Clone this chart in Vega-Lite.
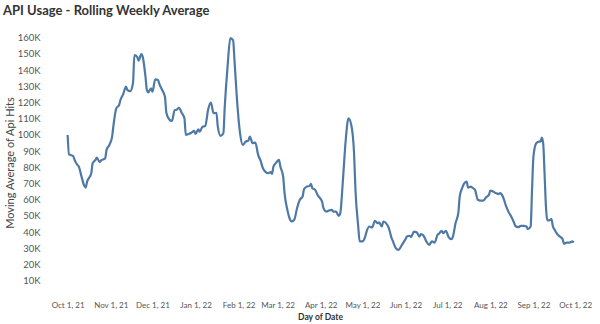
{
  "$schema": "https://vega.github.io/schema/vega-lite/v6.json",
  "autosize": {"type": "none"},
  "width": 552,
  "height": 269,
  "padding": {"left": 44, "top": 28, "right": 4, "bottom": 27},
  "background": "white",
  "title": {
    "text": "API Usage - Rolling Weekly Average",
    "anchor": "start",
    "frame": "group",
    "font": "Lato",
    "fontSize": 13,
    "fontWeight": "bold",
    "color": "#333333",
    "dx": -41,
    "offset": 10
  },
  "config": {
    "view": {"stroke": null},
    "font": "Lato"
  },
  "data": {
    "format": {"parse": {"date": "date:'%Y-%m-%d'"}},
    "values": [
      {"date": "2021-10-01", "hits": 100000},
      {"date": "2021-10-02", "hits": 88000},
      {"date": "2021-10-05", "hits": 87000},
      {"date": "2021-10-06", "hits": 84600},
      {"date": "2021-10-08", "hits": 81500},
      {"date": "2021-10-09", "hits": 80500},
      {"date": "2021-10-11", "hits": 74300},
      {"date": "2021-10-13", "hits": 68600},
      {"date": "2021-10-14", "hits": 67500},
      {"date": "2021-10-15", "hits": 71200},
      {"date": "2021-10-16", "hits": 72900},
      {"date": "2021-10-18", "hits": 76400},
      {"date": "2021-10-19", "hits": 82600},
      {"date": "2021-10-21", "hits": 84600},
      {"date": "2021-10-22", "hits": 86000},
      {"date": "2021-10-24", "hits": 83200},
      {"date": "2021-10-25", "hits": 84200},
      {"date": "2021-10-28", "hits": 85600},
      {"date": "2021-10-29", "hits": 90800},
      {"date": "2021-10-31", "hits": 93800},
      {"date": "2021-11-02", "hits": 99000},
      {"date": "2021-11-03", "hits": 106200},
      {"date": "2021-11-05", "hits": 116400},
      {"date": "2021-11-07", "hits": 118500},
      {"date": "2021-11-08", "hits": 121600},
      {"date": "2021-11-10", "hits": 125300},
      {"date": "2021-11-12", "hits": 129800},
      {"date": "2021-11-13", "hits": 127700},
      {"date": "2021-11-15", "hits": 127100},
      {"date": "2021-11-17", "hits": 131900},
      {"date": "2021-11-18", "hits": 149300},
      {"date": "2021-11-20", "hits": 148200},
      {"date": "2021-11-21", "hits": 145800},
      {"date": "2021-11-23", "hits": 149900},
      {"date": "2021-11-24", "hits": 148200},
      {"date": "2021-11-26", "hits": 135900},
      {"date": "2021-11-27", "hits": 127700},
      {"date": "2021-11-28", "hits": 126300},
      {"date": "2021-11-30", "hits": 128800},
      {"date": "2021-12-01", "hits": 126700},
      {"date": "2021-12-03", "hits": 134300},
      {"date": "2021-12-05", "hits": 133900},
      {"date": "2021-12-06", "hits": 131400},
      {"date": "2021-12-08", "hits": 127700},
      {"date": "2021-12-10", "hits": 123600},
      {"date": "2021-12-11", "hits": 113700},
      {"date": "2021-12-13", "hits": 109700},
      {"date": "2021-12-15", "hits": 108600},
      {"date": "2021-12-17", "hits": 115400},
      {"date": "2021-12-18", "hits": 115400},
      {"date": "2021-12-20", "hits": 116800},
      {"date": "2021-12-22", "hits": 113700},
      {"date": "2021-12-24", "hits": 110300},
      {"date": "2021-12-25", "hits": 100000},
      {"date": "2021-12-27", "hits": 100600},
      {"date": "2021-12-29", "hits": 101400},
      {"date": "2021-12-31", "hits": 102500},
      {"date": "2022-01-01", "hits": 100600},
      {"date": "2022-01-03", "hits": 103500},
      {"date": "2022-01-04", "hits": 102000},
      {"date": "2022-01-06", "hits": 105100},
      {"date": "2022-01-08", "hits": 105500},
      {"date": "2022-01-10", "hits": 115400},
      {"date": "2022-01-12", "hits": 119900},
      {"date": "2022-01-14", "hits": 113400},
      {"date": "2022-01-16", "hits": 113700},
      {"date": "2022-01-17", "hits": 105100},
      {"date": "2022-01-19", "hits": 99400},
      {"date": "2022-01-21", "hits": 101000},
      {"date": "2022-01-22", "hits": 117400},
      {"date": "2022-01-24", "hits": 142000},
      {"date": "2022-01-26", "hits": 159800},
      {"date": "2022-01-28", "hits": 158500},
      {"date": "2022-01-29", "hits": 146000},
      {"date": "2022-01-31", "hits": 119500},
      {"date": "2022-02-02", "hits": 101000},
      {"date": "2022-02-04", "hits": 93800},
      {"date": "2022-02-06", "hits": 95900},
      {"date": "2022-02-08", "hits": 96500},
      {"date": "2022-02-09", "hits": 99000},
      {"date": "2022-02-11", "hits": 94900},
      {"date": "2022-02-13", "hits": 95300},
      {"date": "2022-02-15", "hits": 87700},
      {"date": "2022-02-17", "hits": 83600},
      {"date": "2022-02-18", "hits": 80500},
      {"date": "2022-02-20", "hits": 77400},
      {"date": "2022-02-22", "hits": 76400},
      {"date": "2022-02-24", "hits": 77000},
      {"date": "2022-02-25", "hits": 76000},
      {"date": "2022-02-26", "hits": 80500},
      {"date": "2022-02-28", "hits": 82900},
      {"date": "2022-03-02", "hits": 84600},
      {"date": "2022-03-03", "hits": 80500},
      {"date": "2022-03-05", "hits": 74300},
      {"date": "2022-03-06", "hits": 64100},
      {"date": "2022-03-08", "hits": 53800},
      {"date": "2022-03-10", "hits": 47700},
      {"date": "2022-03-11", "hits": 46600},
      {"date": "2022-03-13", "hits": 47700},
      {"date": "2022-03-15", "hits": 54800},
      {"date": "2022-03-17", "hits": 60000},
      {"date": "2022-03-19", "hits": 62000},
      {"date": "2022-03-20", "hits": 66500},
      {"date": "2022-03-22", "hits": 68100},
      {"date": "2022-03-24", "hits": 68600},
      {"date": "2022-03-25", "hits": 69800},
      {"date": "2022-03-26", "hits": 67200},
      {"date": "2022-03-28", "hits": 66100},
      {"date": "2022-03-30", "hits": 62600},
      {"date": "2022-04-02", "hits": 58900},
      {"date": "2022-04-03", "hits": 54800},
      {"date": "2022-04-05", "hits": 52700},
      {"date": "2022-04-07", "hits": 53400},
      {"date": "2022-04-09", "hits": 53800},
      {"date": "2022-04-10", "hits": 52700},
      {"date": "2022-04-12", "hits": 52700},
      {"date": "2022-04-14", "hits": 50100},
      {"date": "2022-04-15", "hits": 51300},
      {"date": "2022-04-17", "hits": 72300},
      {"date": "2022-04-19", "hits": 96900},
      {"date": "2022-04-21", "hits": 110300},
      {"date": "2022-04-23", "hits": 106200},
      {"date": "2022-04-25", "hits": 88700},
      {"date": "2022-04-26", "hits": 66100},
      {"date": "2022-04-28", "hits": 43500},
      {"date": "2022-04-29", "hits": 34300},
      {"date": "2022-05-01", "hits": 34300},
      {"date": "2022-05-03", "hits": 37300},
      {"date": "2022-05-04", "hits": 40400},
      {"date": "2022-05-06", "hits": 43500},
      {"date": "2022-05-08", "hits": 42900},
      {"date": "2022-05-10", "hits": 47000},
      {"date": "2022-05-12", "hits": 45600},
      {"date": "2022-05-13", "hits": 46000},
      {"date": "2022-05-15", "hits": 43500},
      {"date": "2022-05-16", "hits": 46600},
      {"date": "2022-05-18", "hits": 45600},
      {"date": "2022-05-20", "hits": 42500},
      {"date": "2022-05-22", "hits": 36400},
      {"date": "2022-05-23", "hits": 34300},
      {"date": "2022-05-25", "hits": 30200},
      {"date": "2022-05-27", "hits": 29100},
      {"date": "2022-05-29", "hits": 31600},
      {"date": "2022-06-01", "hits": 35700},
      {"date": "2022-06-02", "hits": 37300},
      {"date": "2022-06-04", "hits": 37800},
      {"date": "2022-06-05", "hits": 37000},
      {"date": "2022-06-07", "hits": 40400},
      {"date": "2022-06-09", "hits": 40000},
      {"date": "2022-06-11", "hits": 37300},
      {"date": "2022-06-12", "hits": 38800},
      {"date": "2022-06-14", "hits": 37800},
      {"date": "2022-06-16", "hits": 34300},
      {"date": "2022-06-18", "hits": 32200},
      {"date": "2022-06-20", "hits": 34300},
      {"date": "2022-06-22", "hits": 33600},
      {"date": "2022-06-24", "hits": 38400},
      {"date": "2022-06-25", "hits": 39000},
      {"date": "2022-06-27", "hits": 40800},
      {"date": "2022-06-28", "hits": 39400},
      {"date": "2022-06-30", "hits": 40800},
      {"date": "2022-07-02", "hits": 37000},
      {"date": "2022-07-04", "hits": 35700},
      {"date": "2022-07-05", "hits": 37000},
      {"date": "2022-07-07", "hits": 45600},
      {"date": "2022-07-09", "hits": 52100},
      {"date": "2022-07-10", "hits": 62000},
      {"date": "2022-07-12", "hits": 67800},
      {"date": "2022-07-13", "hits": 69800},
      {"date": "2022-07-15", "hits": 71200},
      {"date": "2022-07-16", "hits": 67500},
      {"date": "2022-07-18", "hits": 68100},
      {"date": "2022-07-19", "hits": 67500},
      {"date": "2022-07-21", "hits": 66100},
      {"date": "2022-07-23", "hits": 60000},
      {"date": "2022-07-25", "hits": 59500},
      {"date": "2022-07-27", "hits": 59500},
      {"date": "2022-07-29", "hits": 61600},
      {"date": "2022-07-31", "hits": 63000},
      {"date": "2022-08-01", "hits": 65700},
      {"date": "2022-08-03", "hits": 65100},
      {"date": "2022-08-05", "hits": 64100},
      {"date": "2022-08-07", "hits": 63500},
      {"date": "2022-08-08", "hits": 64100},
      {"date": "2022-08-10", "hits": 62000},
      {"date": "2022-08-12", "hits": 56900},
      {"date": "2022-08-14", "hits": 52700},
      {"date": "2022-08-16", "hits": 49700},
      {"date": "2022-08-18", "hits": 46000},
      {"date": "2022-08-19", "hits": 43900},
      {"date": "2022-08-21", "hits": 43100},
      {"date": "2022-08-23", "hits": 43900},
      {"date": "2022-08-25", "hits": 43900},
      {"date": "2022-08-27", "hits": 43500},
      {"date": "2022-08-28", "hits": 41900},
      {"date": "2022-08-30", "hits": 43500},
      {"date": "2022-08-31", "hits": 66100},
      {"date": "2022-09-01", "hits": 86600},
      {"date": "2022-09-03", "hits": 94900},
      {"date": "2022-09-05", "hits": 95900},
      {"date": "2022-09-06", "hits": 95900},
      {"date": "2022-09-07", "hits": 98300},
      {"date": "2022-09-08", "hits": 94900},
      {"date": "2022-09-09", "hits": 76400},
      {"date": "2022-09-10", "hits": 55800},
      {"date": "2022-09-11", "hits": 47700},
      {"date": "2022-09-12", "hits": 47200},
      {"date": "2022-09-14", "hits": 48100},
      {"date": "2022-09-15", "hits": 43500},
      {"date": "2022-09-16", "hits": 41900},
      {"date": "2022-09-18", "hits": 39000},
      {"date": "2022-09-20", "hits": 37300},
      {"date": "2022-09-22", "hits": 35700},
      {"date": "2022-09-23", "hits": 32800},
      {"date": "2022-09-25", "hits": 33600},
      {"date": "2022-09-27", "hits": 33600},
      {"date": "2022-09-29", "hits": 34300},
      {"date": "2022-09-30", "hits": 33600}
    ]
  },
  "mark": {"type": "line", "color": "#4e79a7", "strokeWidth": 2.2, "interpolate": "monotone"},
  "encoding": {
    "x": {
      "field": "date",
      "type": "temporal",
      "title": "Day of Date",
      "scale": {"domain": [{"year": 2021, "month": 9, "date": 14}, {"year": 2022, "month": 10, "date": 16}]},
      "axis": {
        "values": [
          {"year": 2021, "month": 10, "date": 1},
          {"year": 2021, "month": 11, "date": 1},
          {"year": 2021, "month": 12, "date": 1},
          {"year": 2022, "month": 1, "date": 1},
          {"year": 2022, "month": 2, "date": 1},
          {"year": 2022, "month": 3, "date": 1},
          {"year": 2022, "month": 4, "date": 1},
          {"year": 2022, "month": 5, "date": 1},
          {"year": 2022, "month": 6, "date": 1},
          {"year": 2022, "month": 7, "date": 1},
          {"year": 2022, "month": 8, "date": 1},
          {"year": 2022, "month": 9, "date": 1},
          {"year": 2022, "month": 10, "date": 1}
        ],
        "format": "%b %-d, %y",
        "grid": false,
        "domain": false,
        "ticks": false,
        "labelPadding": 4,
        "labelFontSize": 8,
        "labelColor": "#555555",
        "labelFont": "Lato",
        "labelFlush": false,
        "labelOverlap": false,
        "titleFont": "Lato",
        "titleFontSize": 8.5,
        "titleFontWeight": "bold",
        "titleColor": "#333333",
        "titlePadding": 3
      }
    },
    "y": {
      "field": "hits",
      "type": "quantitative",
      "title": "Moving Average of Api Hits",
      "scale": {"domain": [0, 166000], "nice": false, "zero": true},
      "axis": {
        "values": [10000, 20000, 30000, 40000, 50000, 60000, 70000, 80000, 90000, 100000, 110000, 120000, 130000, 140000, 150000, 160000],
        "labelExpr": "datum.value / 1000 + 'K'",
        "grid": false,
        "domain": false,
        "ticks": false,
        "labelPadding": 4,
        "labelFontSize": 9.5,
        "labelColor": "#555555",
        "labelFont": "Lato",
        "titleFont": "Lato",
        "titleFontSize": 11,
        "titleFontWeight": "normal",
        "titleColor": "#444444",
        "titlePadding": 2
      }
    }
  }
}
